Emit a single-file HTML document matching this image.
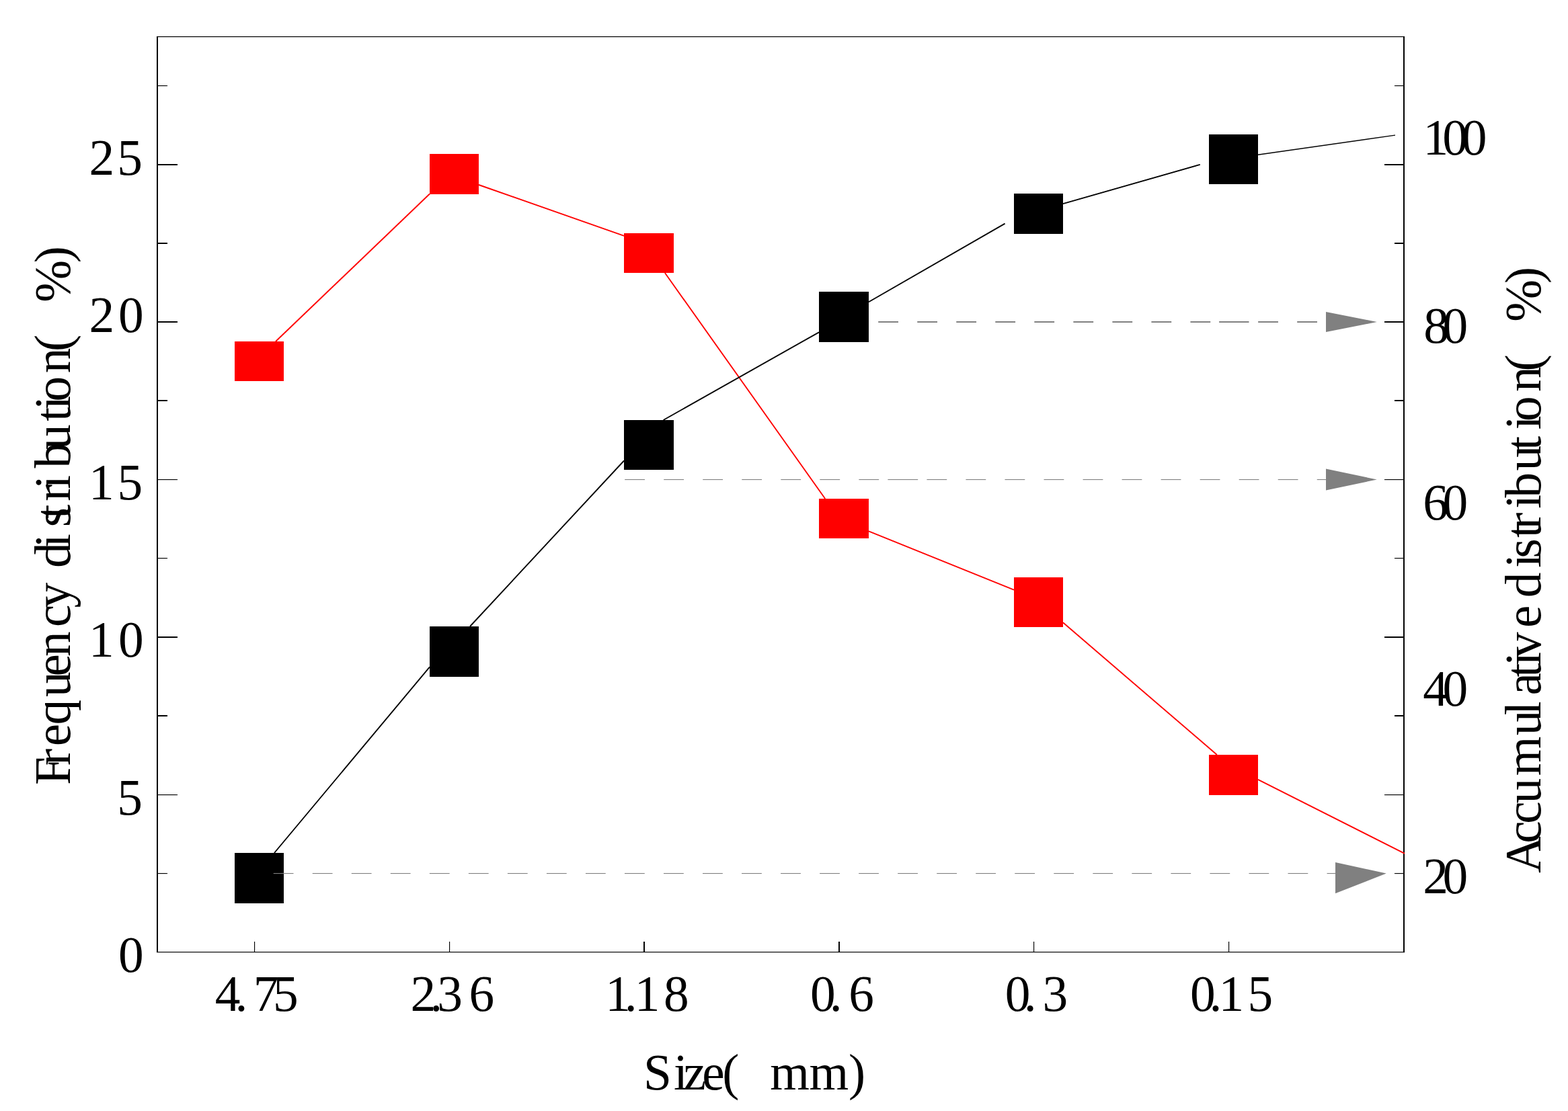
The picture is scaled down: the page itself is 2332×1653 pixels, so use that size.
<!DOCTYPE html>
<html lang="en">
<head>
<meta charset="utf-8">
<title>Frequency and accumulative distribution by size</title>
<style>
html, body { margin: 0; padding: 0; background: #ffffff; }
body { width: 2332px; height: 1653px; overflow: hidden; }
svg { display: block; }
svg text { font-family: "Liberation Serif", "Times New Roman", Times, serif; fill: #000; white-space: pre; }
</style>
</head>
<body>
<svg width="2332" height="1653" viewBox="0 0 2332 1653" role="img" aria-label="Frequency distribution and accumulative distribution versus size">
<rect x="0" y="0" width="2332" height="1653" fill="#ffffff"/>
<g id="axes">
<rect x="233" y="54" width="2" height="1363.15" fill="#000"/>
<rect x="2087" y="54" width="2" height="1363.15" fill="#000"/>
<rect x="233" y="54" width="1856" height="1.2" fill="#000"/>
<rect x="233" y="1416" width="1856" height="1.15" fill="#000"/>
<rect x="235" y="1299" width="14" height="1.15" fill="#000"/>
<rect x="2074" y="1299" width="13" height="1.15" fill="#000"/>
<rect x="235" y="1182" width="29" height="1.15" fill="#000"/>
<rect x="2059" y="1182" width="28" height="1.15" fill="#000"/>
<rect x="235" y="1064" width="14" height="2" fill="#000"/>
<rect x="2074" y="1064" width="13" height="2" fill="#000"/>
<rect x="235" y="947" width="29" height="2" fill="#000"/>
<rect x="2059" y="947" width="28" height="2" fill="#000"/>
<rect x="235" y="830" width="14" height="1.15" fill="#000"/>
<rect x="2074" y="830" width="13" height="1.15" fill="#000"/>
<rect x="235" y="713" width="29" height="1.15" fill="#000"/>
<rect x="2059" y="713" width="28" height="1.15" fill="#000"/>
<rect x="235" y="595" width="14" height="2" fill="#000"/>
<rect x="2074" y="595" width="13" height="2" fill="#000"/>
<rect x="235" y="478" width="29" height="2" fill="#000"/>
<rect x="2059" y="478" width="28" height="2" fill="#000"/>
<rect x="235" y="361" width="14" height="2" fill="#000"/>
<rect x="2074" y="361" width="13" height="2" fill="#000"/>
<rect x="235" y="244" width="29" height="2" fill="#000"/>
<rect x="2059" y="244" width="28" height="2" fill="#000"/>
<rect x="235" y="127" width="14" height="1.15" fill="#000"/>
<rect x="2074" y="127" width="13" height="1.15" fill="#000"/>
<rect x="378" y="1401" width="1.15" height="15" fill="#000"/>
<rect x="668" y="1401" width="1.15" height="15" fill="#000"/>
<rect x="957" y="1401" width="2" height="15" fill="#000"/>
<rect x="1247" y="1401" width="2" height="15" fill="#000"/>
<rect x="1537" y="1401" width="1.15" height="15" fill="#000"/>
<rect x="1827" y="1401" width="1.15" height="15" fill="#000"/>
</g>
<g id="series-lines" fill="none">
<line x1="410" y1="508" x2="639" y2="288.5" stroke="#ff0000" stroke-width="1.9"/>
<line x1="712" y1="275" x2="928" y2="350.9" stroke="#ff0000" stroke-width="1.9"/>
<line x1="988.9" y1="406" x2="1227.2" y2="742" stroke="#ff0000" stroke-width="1.9"/>
<line x1="1292" y1="790.3" x2="1508" y2="877.6" stroke="#ff0000" stroke-width="1.9"/>
<line x1="1581" y1="926.3" x2="1809.9" y2="1123" stroke="#ff0000" stroke-width="1.9"/>
<line x1="1871" y1="1159.8" x2="2089" y2="1269.9" stroke="#ff0000" stroke-width="1.9"/>
<line x1="408" y1="1269" x2="639" y2="992.4" stroke="#000000" stroke-width="1.9"/>
<line x1="699" y1="932" x2="928" y2="685.5" stroke="#000000" stroke-width="1.9"/>
<line x1="986.6" y1="625" x2="1218" y2="494.3" stroke="#000000" stroke-width="1.9"/>
<line x1="1292" y1="449.3" x2="1494.6" y2="332.6" stroke="#000000" stroke-width="1.9"/>
<line x1="1581" y1="303.1" x2="1784.8" y2="244.9" stroke="#000000" stroke-width="1.9"/>
<line x1="1871" y1="230.3" x2="2075" y2="201.1" stroke="#000000" stroke-width="1.4"/>
</g>
<g id="markers" shape-rendering="crispEdges">
<rect x="349" y="508" width="73" height="59" fill="#ff0000"/>
<rect x="639" y="229" width="73" height="60" fill="#ff0000"/>
<rect x="928" y="347" width="74" height="59" fill="#ff0000"/>
<rect x="1218" y="742" width="74" height="59" fill="#ff0000"/>
<rect x="1508" y="859" width="73" height="74" fill="#ff0000"/>
<rect x="1798" y="1123" width="73" height="60" fill="#ff0000"/>
<rect x="349" y="1269" width="73" height="75" fill="#000000"/>
<rect x="639" y="932" width="73" height="75" fill="#000000"/>
<rect x="928" y="625" width="74" height="74" fill="#000000"/>
<rect x="1218" y="434" width="74" height="75" fill="#000000"/>
<rect x="1508" y="288" width="73" height="60" fill="#000000"/>
<rect x="1798" y="200" width="73" height="74" fill="#000000"/>
</g>
<g id="guides">
<rect x="1306.2" y="478" width="29.8" height="2" fill="#808080"/>
<rect x="1364.23" y="478" width="29.8" height="2" fill="#808080"/>
<rect x="1422.26" y="478" width="29.8" height="2" fill="#808080"/>
<rect x="1480.29" y="478" width="29.8" height="2" fill="#808080"/>
<rect x="1538.32" y="478" width="29.8" height="2" fill="#808080"/>
<rect x="1596.35" y="478" width="29.8" height="2" fill="#808080"/>
<rect x="1654.38" y="478" width="29.8" height="2" fill="#808080"/>
<rect x="1712.41" y="478" width="29.8" height="2" fill="#808080"/>
<rect x="1770.44" y="478" width="29.8" height="2" fill="#808080"/>
<rect x="1813.1" y="478" width="44.4" height="2" fill="#808080"/>
<rect x="1871.13" y="478" width="29.8" height="2" fill="#808080"/>
<rect x="1929.16" y="478" width="29.8" height="2" fill="#808080"/>
<rect x="929.2" y="713" width="29.8" height="1.1" fill="#808080"/>
<rect x="987.23" y="713" width="29.8" height="1.1" fill="#808080"/>
<rect x="1045.26" y="713" width="29.8" height="1.1" fill="#808080"/>
<rect x="1103.29" y="713" width="29.8" height="1.1" fill="#808080"/>
<rect x="1161.32" y="713" width="29.8" height="1.1" fill="#808080"/>
<rect x="1219.35" y="713" width="29.8" height="1.1" fill="#808080"/>
<rect x="1277.38" y="713" width="29.8" height="1.1" fill="#808080"/>
<rect x="1320.4" y="713" width="44.81" height="1.1" fill="#808080"/>
<rect x="1378.43" y="713" width="29.8" height="1.1" fill="#808080"/>
<rect x="1436.46" y="713" width="29.8" height="1.1" fill="#808080"/>
<rect x="1494.49" y="713" width="29.8" height="1.1" fill="#808080"/>
<rect x="1552.52" y="713" width="29.8" height="1.1" fill="#808080"/>
<rect x="1610.55" y="713" width="29.8" height="1.1" fill="#808080"/>
<rect x="1668.58" y="713" width="29.8" height="1.1" fill="#808080"/>
<rect x="1726.61" y="713" width="29.8" height="1.1" fill="#808080"/>
<rect x="1784.64" y="713" width="29.8" height="1.1" fill="#808080"/>
<rect x="1842.67" y="713" width="29.8" height="1.1" fill="#808080"/>
<rect x="1900.7" y="713" width="29.8" height="1.1" fill="#808080"/>
<rect x="1958.73" y="713" width="13.77" height="1.1" fill="#808080"/>
<rect x="406.7" y="1299" width="29.8" height="1.1" fill="#808080"/>
<rect x="464.73" y="1299" width="29.8" height="1.1" fill="#808080"/>
<rect x="522.76" y="1299" width="29.8" height="1.1" fill="#808080"/>
<rect x="580.79" y="1299" width="29.8" height="1.1" fill="#808080"/>
<rect x="638.82" y="1299" width="29.8" height="1.1" fill="#808080"/>
<rect x="696.85" y="1299" width="29.8" height="1.1" fill="#808080"/>
<rect x="754.88" y="1299" width="29.8" height="1.1" fill="#808080"/>
<rect x="812.91" y="1299" width="29.8" height="1.1" fill="#808080"/>
<rect x="870.94" y="1299" width="29.8" height="1.1" fill="#808080"/>
<rect x="928.97" y="1299" width="29.8" height="1.1" fill="#808080"/>
<rect x="987" y="1299" width="29.8" height="1.1" fill="#808080"/>
<rect x="1045.03" y="1299" width="29.8" height="1.1" fill="#808080"/>
<rect x="1103.06" y="1299" width="29.8" height="1.1" fill="#808080"/>
<rect x="1161.09" y="1299" width="29.8" height="1.1" fill="#808080"/>
<rect x="1219.12" y="1299" width="29.8" height="1.1" fill="#808080"/>
<rect x="1277.15" y="1299" width="29.8" height="1.1" fill="#808080"/>
<rect x="1335.18" y="1299" width="29.8" height="1.1" fill="#808080"/>
<rect x="1393.21" y="1299" width="29.8" height="1.1" fill="#808080"/>
<rect x="1451.24" y="1299" width="29.8" height="1.1" fill="#808080"/>
<rect x="1509.27" y="1299" width="29.8" height="1.1" fill="#808080"/>
<rect x="1567.3" y="1299" width="29.8" height="1.1" fill="#808080"/>
<rect x="1625.33" y="1299" width="29.8" height="1.1" fill="#808080"/>
<rect x="1683.36" y="1299" width="29.8" height="1.1" fill="#808080"/>
<rect x="1741.39" y="1299" width="29.8" height="1.1" fill="#808080"/>
<rect x="1799.42" y="1299" width="29.8" height="1.1" fill="#808080"/>
<rect x="1857.45" y="1299" width="29.8" height="1.1" fill="#808080"/>
<rect x="1915.48" y="1299" width="29.8" height="1.1" fill="#808080"/>
<rect x="1973.51" y="1299" width="12.99" height="1.1" fill="#808080"/>
<polygon points="1972,464 2047.8,479 1972,494" fill="#808080"/>
<polygon points="1972,697.6 2047.8,713.5 1972,729.4" fill="#808080"/>
<polygon points="1986,1283 2061.8,1299.5 1986,1329.3" fill="#808080"/>
</g>
<text transform="rotate(-90)" x="-1167.94 -1138.88 -1110.35 -1078.43 -1036.95 -1006.55 -976.89 -933.11 -904.46 -866.76 -845.05 -815.05 -784.26 -771.42 -745.68 -727.65 -696.61 -669.1 -626.82 -609.85 -597.55 -555.14 -523 -497.89 -449.85 -391.31" y="103.8" font-size="75.4">Frequency distribution( %)</text>
<text transform="rotate(-90)" x="-1299.02 -1254.81 -1225.66 -1195.55 -1154.23 -1094.2 -1064.37 -1034.54 -1007.62 -990.85 -978.35 -934.1 -900.63 -889.35 -844.85 -830.46 -800.07 -787.63 -756.65 -740.56 -700.4 -669.82 -639.35 -627.1 -582.94 -552.45 -527.34 -478.8 -421.91" y="2290.7" font-size="75.4">Accumulative distribution( %)</text>
<text x="319.75 349.53 376.85 405.93" y="1504.2" font-size="75.4">4.75</text>
<text x="610.57 639.33 650.17 697.5" y="1504.2" font-size="75.4">2.36</text>
<text x="900.3 928.73 943.75 987.05" y="1504.2" font-size="75.4">1.18</text>
<text x="1204.9 1233.63 1262.25" y="1504.2" font-size="75.4">0.6</text>
<text x="1494.8 1522.83 1550.52" y="1504.2" font-size="75.4">0.3</text>
<text x="1769.95 1798.52 1812.55 1855.48" y="1504.2" font-size="75.4">0.15</text>
<text x="956.9 1001.95 1016.6 1044.35 1074.15 1099.26 1145.37 1203.42 1261.89" y="1620.7" font-size="75.4">Size( mm)</text>
<text x="132.52 174.33" y="259.8" font-size="75.4">25</text>
<text x="132.62 175.95" y="493.7" font-size="75.4">20</text>
<text x="132 174.53" y="742.5" font-size="75.4">15</text>
<text x="132 175.95" y="977" font-size="75.4">10</text>
<text x="174.28" y="1212" font-size="75.4">5</text>
<text x="175.95" y="1446" font-size="75.4">0</text>
<text x="2116.55 2145.15 2173.7" y="230.2" font-size="75.4">100</text>
<text x="2117.25 2145.5" y="509.5" font-size="75.4">80</text>
<text x="2116.25 2145.5" y="772.9" font-size="75.4">60</text>
<text x="2116.3 2145.5" y="1049.5" font-size="75.4">40</text>
<text x="2116.32 2145.5" y="1329" font-size="75.4">20</text>
</svg>
</body>
</html>
